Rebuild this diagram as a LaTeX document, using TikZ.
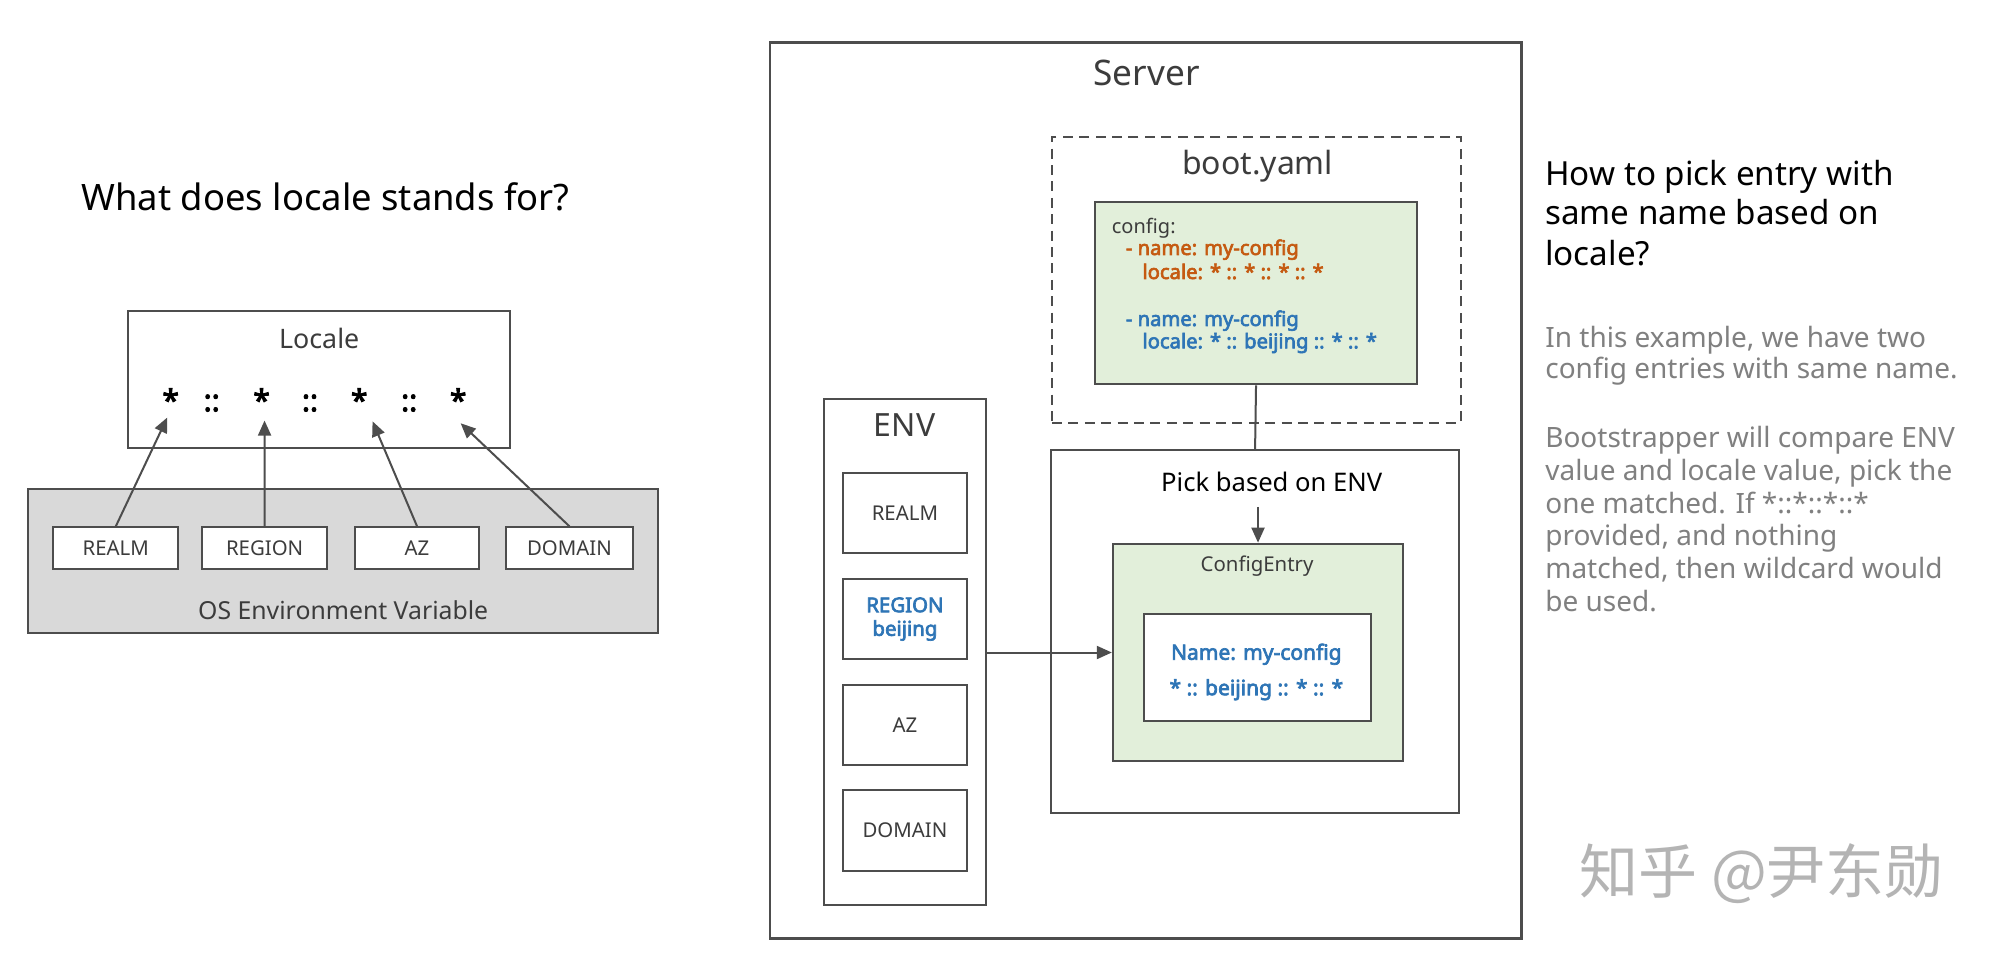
\documentclass[tikz,border=0pt]{standalone}
\usepackage{fontspec}
\setmainfont{Noto Sans}[AutoFakeBold=3.2]
\newfontfamily\cjkfont{Noto Sans CJK SC}
\usetikzlibrary{arrows.meta,fit}
\definecolor{linec}{HTML}{4D4D4D}
\definecolor{greenf}{HTML}{E2EFDA}
\definecolor{grayf}{HTML}{D9D9D9}
\definecolor{orangec}{HTML}{C55A11}
\definecolor{bluec}{HTML}{2E75B6}
\definecolor{txtg}{HTML}{808080}
\definecolor{lab}{HTML}{3C3C3C}
\definecolor{wmark}{HTML}{B4B4B4}
\newcommand{\fsz}[1]{\fontsize{#1pt}{#1pt}\selectfont}
\begin{document}
\begin{tikzpicture}[x=0.6384pt,y=-0.6384pt,
  fitbox/.style={draw=linec, line width=1pt, inner sep=0pt, fill=white},
  dashbox/.style={draw=linec, line width=1pt, inner sep=0pt, dash pattern=on 5pt off 3.2pt},
  lbl/.style={font=\fsz{10.2}, text=lab},
  arr/.style={draw=linec, line width=1pt, -{Triangle[length=7.5pt,width=6.5pt]}},
  conn/.style={draw=linec, line width=1pt},
  cfgline/.style={anchor=base west, inner sep=0pt, font=\fsz{10.1}\bfseries},
  rtitle/.style={anchor=base west, inner sep=0pt, font=\fsz{16.6}, text=black},
  rtext/.style={anchor=base west, inner sep=0pt, font=\fsz{14}, text=txtg},
  locsym/.style={anchor=base, font=\fsz{15}\bfseries}]

\useasboundingbox[fill=white] (0,0) rectangle (1568,747.2);

% ---------- left part ----------
\node[anchor=base west, inner sep=0pt, font=\fsz{18.2}] (lefttitle) at (63.6,164.5) {What does locale stands for?};

\node[fitbox, fill=grayf, fit={(22,383.2)(515.3,495.9)}] (os) {};
\node[fitbox, fit={(100,243.5)(399.7,350.5)}] (loc) {};
\node[font=\fsz{13.4}, text=lab] (loctext) at (250,265) {Locale};

\node[locsym] (s1) at (133.7,322) {*};
\node[locsym] (c1) at (165.8,322) {::};
\node[locsym] (s2) at (204.9,322) {*};
\node[locsym] (c2) at (242.8,322) {::};
\node[locsym] (s3) at (281.4,322) {*};
\node[locsym] (c3) at (320.5,322) {::};
\node[locsym] (s4) at (358.9,322) {*};

\node[fitbox, fit={(41.7,413)(139.7,445.8)}] (realm) {};
\node[fitbox, fit={(158.5,413)(256,445.8)}] (region) {};
\node[fitbox, fit={(278.4,413)(374.9,445.8)}] (az) {};
\node[fitbox, fit={(396,413)(496,445.8)}] (domain) {};
\node[lbl] (realmt) at (realm.center) {REALM};
\node[lbl] (regiont) at (region.center) {REGION};
\node[lbl] (azt) at (az.center) {AZ};
\node[lbl] (domaint) at (domain.center) {DOMAIN};
\node[font=\fsz{12.4}, text=lab] (ostext) at (268.8,477.7) {OS Environment Variable};

\coordinate (t1) at (131,327);
\coordinate (t2) at (207.2,329.4);
\coordinate (t3) at (291.8,330);
\coordinate (t4) at (360.8,331.5);
\draw[arr] (realm.north) -- (t1);
\draw[arr] (region.north) -- (t2);
\draw[arr] (az.north) -- (t3);
\draw[arr] (domain.north) -- (t4);

% ---------- server ----------
\node[fitbox, line width=1.2pt, fit={(603,33.4)(1191.5,735)}] (server) {};
\node[font=\fsz{17.6}, text=lab] (servertext) at (898,57.4) {Server};

\node[dashbox, fit={(824,107)(1144,331)}] (boot) {};
\node[font=\fsz{16}, text=lab] (boottext) at (985,130.5) {boot.yaml};
\node[fitbox, fill=greenf, fit={(857.5,157.9)(1110,301)}] (cfg) {};
\node[anchor=base west, inner sep=0pt, font=\fsz{10}, text=lab] (l0) at (870.5,182.5) {config:};
\node[cfgline, text=orangec] (l1) at (881.5,199.7) {- name: my-config};
\node[cfgline, text=orangec] (l2) at (894.5,218.5) {locale: * :: * :: * :: *};
\node[cfgline, text=bluec] (l3) at (881.5,255.3) {- name: my-config};
\node[cfgline, text=bluec] (l4) at (894.5,272.8) {locale: * :: beijing :: * :: *};

\node[fitbox, fit={(645,312.6)(772,709)}] (env) {};
\node[font=\fsz{16}, text=lab] (envtext) at (708.5,333) {ENV};
\node[fitbox, fit={(660,370.8)(757.5,433.2)}] (erealm) {};
\node[fitbox, fit={(660,453.6)(757.5,516.1)}] (eregion) {};
\node[fitbox, fit={(660,536.4)(757.5,598.9)}] (eaz) {};
\node[fitbox, fit={(660,619)(757.5,682)}] (edomain) {};
\node[lbl] (erealmt) at (erealm.center) {REALM};
\node[font=\fontsize{10.2pt}{11.8pt}\selectfont\bfseries, text=bluec, align=center] (eregiont) at (eregion.center) {REGION\\beijing};
\node[lbl] (eazt) at (eaz.center) {AZ};
\node[lbl] (edomaint) at (edomain.center) {DOMAIN};

\node[fitbox, fit={(823,352.3)(1143,636.7)}] (pick) {};
\node[font=\fsz{12.8}, text=black] (picktext) at (996,377.8) {Pick based on ENV};
\node[fitbox, fill=greenf, fit={(871.6,425.8)(1099,596.3)}] (ce) {};
\node[lbl] (cetext) at (984.6,443.7) {ConfigEntry};
\node[fitbox, fit={(895.9,481)(1073.6,565)}] (inner) {};
\node[font=\fsz{10.5}\bfseries, text=bluec] (nametext) at (984,512.4) {Name: my-config};
\node[font=\fsz{10.5}\bfseries, text=bluec] (loctext2) at (984,540.2) {* :: beijing :: * :: *};

\draw[conn] (cfg.south) -- (pick.north);
\coordinate (pa) at (985.3,396.9);
\draw[arr] (pa) -- (ce.north);
\draw[arr] (env.east |- ce.west) -- (ce.west);

% ---------- right text ----------
\node[rtitle] (rt1) at (1210,145) {How to pick entry with};
\node[rtitle] (rt2) at (1210,176.2) {same name based on};
\node[rtitle] (rt3) at (1210,207.6) {locale?};
\node[rtext] (g1) at (1210,272) {In this example, we have two};
\node[rtext] (g2) at (1210,296.8) {config entries with same name.};
\node[rtext] (g3) at (1210,350.6) {Bootstrapper will compare ENV};
\node[rtext] (g4) at (1210,376.2) {value and locale value, pick the};
\node[rtext] (g5) at (1210,401.8) {one matched. If *::*::*::*};
\node[rtext] (g6) at (1210,427.5) {provided, and nothing};
\node[rtext] (g7) at (1210,453.1) {matched, then wildcard would};
\node[rtext] (g8) at (1210,478.8) {be used.};

\node[font=\cjkfont\fsz{29.5}, text=wmark] (wm) at (1380,684) {知乎 @尹东勋};
\end{tikzpicture}
\end{document}
